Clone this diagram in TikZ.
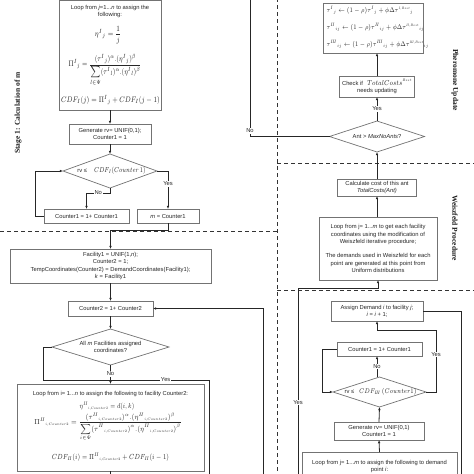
\RequirePackage{fix-cm}
\documentclass[tikz,border=0pt]{standalone}
\usepackage{amsmath}
\usepackage{graphicx}
\usepackage{fontspec}
\setmainfont{Liberation Sans}
\newfontfamily\serifb{Liberation Serif}
\usetikzlibrary{arrows.meta,shapes.geometric,calc}
\newcommand\boxfs{\fontsize{5.8}{7.2}\selectfont}
\newcommand\mfs[1]{\fontsize{#1}{#1}\selectfont}
\newcommand\tinysc[1]{{\scriptscriptstyle #1}}
\newcommand\sqz[2]{\scalebox{#1}[1]{#2}}
\tikzset{
 box/.style={draw=black!55, line width=0.7pt, fill=white, inner sep=1pt, outer sep=0pt, align=center, font=\boxfs, text=black!85},
 dia/.style={diamond, draw=black!55, line width=0.7pt, fill=white, inner sep=0pt, outer sep=0pt},
 txt/.style={inner sep=0pt, align=center, font=\boxfs, text=black!85},
 conn/.style={draw=black!85, line width=0.8pt},
 arr/.style={conn, -{Latex[length=3.2pt,width=2.6pt]}},
 lab/.style={fill=white, inner sep=0.6pt, font=\boxfs, text=black!85},
 sepline/.style={draw=black!80, line width=0.8pt, dash pattern=on 4pt off 3pt},
 stagelab/.style={font={\serifb\bfseries\fontsize{7.5}{9}\selectfont}, text=black!90, inner sep=0pt}
}
\begin{document}
\begin{tikzpicture}[x=1pt,y=-1pt]
\useasboundingbox (0,0) rectangle (474,474);
% separators
\draw[sepline] (0,231) -- (277,231);
\draw[sepline] (277,-2) -- (277,476);
\draw[sepline] (277,163) -- (476,163);
\draw[sepline] (277,290) -- (476,290);
% stage labels
\node[stagelab, rotate=90] (st1) at (18,113) {Stage 1: Calculation of m};
\node[stagelab, rotate=-90] (st2) at (455,80) {Pheromone Update};
\node[stagelab, rotate=-90] (st3) at (455,228) {Weiszfeld Procedure};
% ---------- left column ----------
\node[box, minimum width=102, minimum height=109.5] (loopj) at (110,55.25) {};
\node[txt] (loopjt) at (110,11.5) {Loop from \textit{j}=1...\textit{n} to assign the\\following:};
\node[txt, font=\mfs{8}] (eta1) at (108,35) {\sqz{0.85}{$\eta^{I}{}_{j}=\dfrac{1}{j}$}};
\node[txt, font=\mfs{8}] (pi1) at (105,70) {\sqz{0.8}{$\Pi^{I}{}_{j}=\dfrac{(\tau^{I}{}_{j})^{\alpha}.(\eta^{I}{}_{j})^{\beta}}{\displaystyle\sum_{l\in\Psi}(\tau^{I}{}_{l})^{\alpha}.(\eta^{I}{}_{l})^{\beta}}$}};
\node[txt, font=\mfs{8}] (cdf1) at (110.5,100) {\sqz{0.83}{$CDF_{I}(j)=\Pi^{I}{}_{j}+CDF_{I}(j-1)$}};
\node[box, minimum width=82, minimum height=20] (gen1) at (110,134) {Generate rv= UNIF(0,1);\\Counter1 = 1};
\node[dia, minimum width=94, minimum height=34] (dia1) at (110,171) {};
\node[txt] (dia1t) at (111.5,171) {rv ≤\hspace{7pt}{\mfs{7.2}\sqz{0.78}{$CDF_{I}(Counter\,1)$}}};
\node[box, minimum width=85, minimum height=14] (cnt1) at (86.5,216) {Counter1 = 1+ Counter1};
\node[box, minimum width=62, minimum height=14] (mbox) at (168,216) {\textit{m} = Counter1};
\node[box, minimum width=201, minimum height=34] (fac) at (110.5,266) {Facility1 = UNIF(1,\textit{n});\\Counter2 = 1;\\TempCoordinates(Counter2) = DemandCoordinates(Facility1);\\\textit{k} = Facility1};
\node[box, minimum width=85, minimum height=15] (cnt2) at (110.5,308.5) {Counter2 = 1+ Counter2};
\node[dia, minimum width=117, minimum height=36] (dia2) at (110.5,347) {};
\node[txt] (dia2t) at (110.5,347) {All \textit{m} Facilities assigned\\coordinates?};
\node[box, minimum width=187, minimum height=87] (loopi) at (110.5,427.5) {};
\node[txt] (loopit) at (110.5,394) {Loop from i= 1...\textit{n} to assign the following to facility Counter2:};
\node[txt, font=\mfs{7.2}] (eta2) at (107,406.5) {\sqz{0.78}{$\eta^{I\!I}{}_{\tinysc{i,Counter2}}=d(i,k)$}};
\node[txt, font=\mfs{7.2}] (pi2) at (108,427) {\sqz{0.9}{$\Pi^{I\!I}{}_{\tinysc{i,Counter2}}=\dfrac{(\tau^{I\!I}{}_{\tinysc{i,Counter2}})^{\alpha}.(\eta^{I\!I}{}_{\tinysc{i,Counter2}})^{\beta}}{\displaystyle\sum_{i\in\Psi}(\tau^{I\!I}{}_{\tinysc{i,Counter2}})^{\alpha}.(\eta^{I\!I}{}_{\tinysc{i,Counter2}})^{\beta}}$}};
\node[txt, font=\mfs{7.4}] (cdf2) at (110.5,457) {\sqz{0.8}{$CDF_{I\!I}(i)=\Pi^{I\!I}{}_{\tinysc{i,Counter2}}+CDF_{I\!I}(i-1)$}};
\coordinate (junc) at (110.5,380);
\coordinate (yesEnd) at (209,476);
\coordinate (c2in) at (263,476);
% left connectors
\draw[arr] (loopj.south) -- (gen1.north);
\draw[arr] (gen1.south) -- (dia1.north);
\draw[arr] (cnt1.west) -- ++(-9,0) |- (dia1.west);
\draw[arr] (dia1.south) -- ++(0,5) -| node[lab, pos=0.25]{No} (cnt1.north);
\draw[arr] (dia1.east) -| node[lab, pos=0.67]{Yes} (mbox.north);
\draw[arr] (mbox.south) -- ++(0,7) -| (fac.north);
\draw[arr] (fac.south) -- (cnt2.north);
\draw[arr] (cnt2.south) -- (dia2.north);
\draw[conn] (dia2.west) -- ++(-9,0) |- (junc);
\draw[arr] (dia2.south) -- node[lab, pos=0.47]{No} (loopi.north);
\draw[conn] (junc) -| node[lab, pos=0.28]{Yes} (yesEnd);
\draw[arr] (c2in) |- (cnt2.east);
\draw[conn] (loopi.south) -- ++(0,6);
% ---------- right column ----------
\node[box, minimum width=100, minimum height=50] (pher) at (373,28) {};
\node[txt, font=\mfs{6.8}, anchor=west] (ph1) at (326.5,10) {\sqz{0.8}{$\tau^{I}{}_{j}\leftarrow(1-\rho)\tau^{I}{}_{j}+\phi\Delta\tau^{\tinysc{I,Best}}{}_{j}$}};
\node[txt, font=\mfs{6.8}, anchor=west] (ph2) at (326.5,27.5) {\sqz{0.8}{$\tau^{I\!I}{}_{ij}\leftarrow(1-\rho)\tau^{I\!I}{}_{ij}+\phi\Delta\tau^{\tinysc{I\!I,Best}}{}_{ij}$}};
\node[txt, font=\mfs{6.8}, anchor=west] (ph3) at (326.5,44) {\sqz{0.8}{$\tau^{I\!I\!I}{}_{ij}\leftarrow(1-\rho)\tau^{I\!I\!I}{}_{ij}+\phi\Delta\tau^{\tinysc{I\!I\!I,Best}}{}_{ij}$}};
\node[box, minimum width=75, minimum height=21] (check) at (377,86.5) {Check if\hspace{4pt}{\mfs{7.2}\sqz{0.85}{$TotalCosts^{\tinysc{Best}}$}}\\needs updating};
\node[dia, minimum width=95, minimum height=31] (dia3) at (377,136.5) {};
\node[txt] (dia3t) at (377,136.5) {Ant > \textit{MaxNoAnts}?};
\node[box, minimum width=79, minimum height=17] (calc) at (377,187.5) {Calculate cost of this ant\\\textit{TotalCosts(Ant)}};
\node[box, minimum width=118, minimum height=63] (weisz) at (378,248.5) {Loop from j= 1...\textit{m} to get each facility\\coordinates using the modification of\\Weiszfeld iterative procedure;\\[7.5pt]The demands used in Weiszfeld for each\\point are generated at this point from\\Uniform distributions};
\node[box, minimum width=92, minimum height=20] (assign) at (377,311) {Assign Demand \textit{i} to facility \textit{j};\\\textit{i} = \textit{i} + 1;};
\node[box, minimum width=85, minimum height=14] (cnt3) at (379.5,349) {Counter1 = 1+ Counter1};
\node[dia, minimum width=93, minimum height=30] (dia4) at (379.5,392) {};
\node[txt] (dia4t) at (380.5,392) {rv ≤\hspace{5pt}{\mfs{6.8}\sqz{0.8}{$CDF_{I\!I\!I}\left(Counter1\right)$}}};
\node[box, minimum width=90, minimum height=18] (gen3) at (379,431) {Generate rv= UNIF(0,1)\\Counter1 = 1};
\node[box, minimum width=155, minimum height=30, anchor=north] (loopj2) at (379.5,452) {};
\node[txt] (loopj2t) at (379.5,466.5) {Loop from j= 1...\textit{m} to assign the following to demand\\point \textit{i}:};
\coordinate (noTop) at (250,-2);
\coordinate (wj) at (298,288);
\coordinate (yesBot) at (298,476);
\coordinate (asgOut) at (461,476);
\coordinate (ay) at ($(assign.south)+(0,9)$);
% right connectors
\draw[conn] (dia3.west) -| node[lab, pos=0.52]{No} (noTop);
\draw[arr] (dia3.north) -- node[lab]{Yes} (check.south);
\draw[arr] (check.north) -- (check.north |- pher.south);
\draw[arr] (calc.north) -- (dia3.south);
\draw[arr] (weisz.north -| calc.south) -- (calc.south);
\draw[arr] (yesBot) -- node[lab, pos=0.39]{Yes} (wj) -| (weisz.south);
\draw[conn] (assign.east) -| (asgOut);
\draw[arr] (dia4.north -| assign.south) -- node[lab]{No} (cnt3.south -| assign.south);
\draw[arr] (cnt3.west) -- ++(-15,0) |- (dia4.west);
\draw[arr] (dia4.east) -- ++(10,0) |- node[lab, pos=0.3]{Yes} (ay) -- (assign.south);
\draw[arr] (gen3.north) -- (dia4.south);
\draw[arr] (loopj2.north) -- (gen3.south);
\end{tikzpicture}
\end{document}
